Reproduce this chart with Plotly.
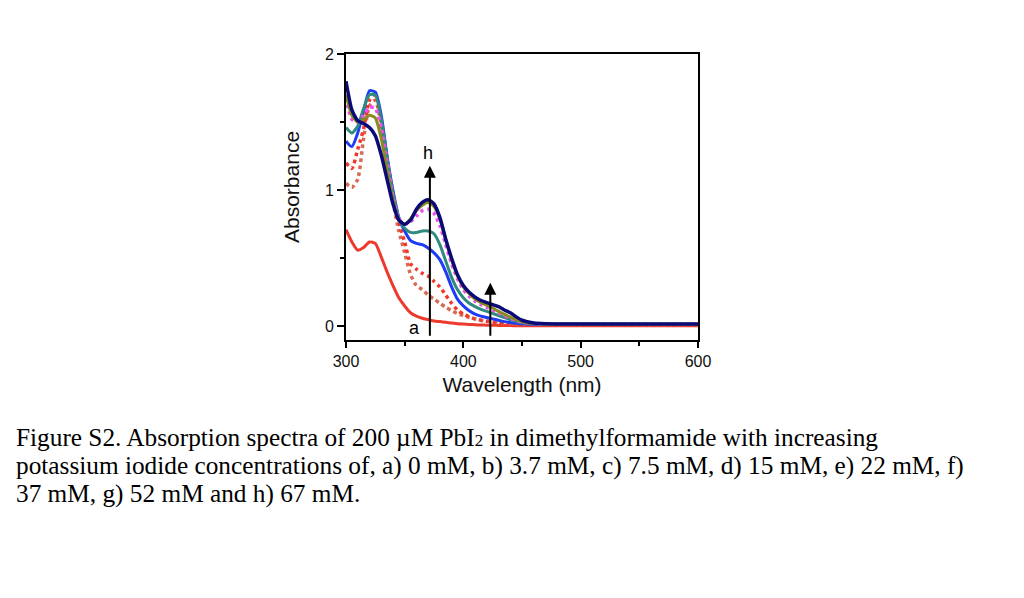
import plotly.graph_objects as go

wavelength = [300, 305, 310, 315, 320, 325, 330, 335, 340, 345, 350, 355, 360, 365, 370, 375,
              380, 385, 390, 395, 400, 405, 410, 415, 420, 425, 430, 435, 440, 445, 450, 460,
              470, 500, 550, 600]

abs_a = [0.71, 0.62, 0.56, 0.58, 0.62, 0.61, 0.51, 0.40, 0.30, 0.21, 0.15, 0.10, 0.075, 0.06, 0.05, 0.04,
         0.035, 0.03, 0.025, 0.02, 0.017, 0.014, 0.012, 0.01, 0.009, 0.008, 0.007, 0.006, 0.006, 0.005, 0.005, 0.005,
         0.005, 0.005, 0.005, 0.005]
abs_b = [1.05, 1.02, 1.08, 1.38, 1.62, 1.66, 1.48, 1.20, 0.92, 0.70, 0.54, 0.38, 0.30, 0.27, 0.23, 0.20,
         0.17, 0.14, 0.115, 0.095, 0.08, 0.065, 0.055, 0.045, 0.038, 0.032, 0.027, 0.023, 0.02, 0.018, 0.016, 0.014,
         0.013, 0.012, 0.011, 0.01]
abs_c = [1.20, 1.16, 1.30, 1.45, 1.66, 1.70, 1.52, 1.22, 0.95, 0.76, 0.62, 0.46, 0.42, 0.39, 0.37, 0.33,
         0.29, 0.23, 0.17, 0.12, 0.09, 0.07, 0.055, 0.045, 0.038, 0.032, 0.028, 0.024, 0.021, 0.019, 0.017, 0.015,
         0.014, 0.013, 0.012, 0.012]
abs_d = [1.36, 1.32, 1.42, 1.58, 1.73, 1.72, 1.55, 1.25, 1.00, 0.80, 0.70, 0.63, 0.61, 0.60, 0.575, 0.54,
         0.49, 0.40, 0.29, 0.20, 0.15, 0.115, 0.09, 0.075, 0.065, 0.055, 0.045, 0.035, 0.028, 0.022, 0.019, 0.016,
         0.015, 0.015, 0.014, 0.014]
abs_e = [1.46, 1.42, 1.47, 1.60, 1.70, 1.70, 1.52, 1.24, 0.98, 0.80, 0.72, 0.69, 0.69, 0.70, 0.70, 0.68,
         0.60, 0.48, 0.36, 0.27, 0.21, 0.17, 0.145, 0.125, 0.11, 0.095, 0.08, 0.065, 0.05, 0.037, 0.027, 0.019,
         0.016, 0.015, 0.015, 0.015]
abs_f = [1.68, 1.52, 1.50, 1.55, 1.61, 1.60, 1.46, 1.20, 0.95, 0.79, 0.75, 0.77, 0.81, 0.85, 0.86, 0.83,
         0.74, 0.60, 0.46, 0.35, 0.27, 0.22, 0.185, 0.16, 0.14, 0.12, 0.10, 0.08, 0.06, 0.045, 0.032, 0.021,
         0.017, 0.016, 0.015, 0.015]
abs_g = [1.70, 1.55, 1.50, 1.52, 1.55, 1.53, 1.38, 1.15, 0.93, 0.78, 0.75, 0.79, 0.85, 0.89, 0.91, 0.88,
         0.79, 0.64, 0.49, 0.37, 0.29, 0.24, 0.20, 0.175, 0.155, 0.135, 0.11, 0.09, 0.068, 0.05, 0.035, 0.022,
         0.018, 0.016, 0.016, 0.016]
abs_h = [1.80, 1.59, 1.51, 1.49, 1.46, 1.40, 1.26, 1.08, 0.90, 0.78, 0.75, 0.78, 0.86, 0.91, 0.93, 0.90,
         0.80, 0.64, 0.50, 0.38, 0.30, 0.25, 0.215, 0.19, 0.175, 0.16, 0.145, 0.12, 0.10, 0.07, 0.045, 0.025,
         0.02, 0.018, 0.017, 0.017]

series = [
    ("a", abs_a, "#ec3b2e", "solid", 3),
    ("b", abs_b, "#d96a52", "dot", 3.5),
    ("c", abs_c, "#f0392b", "dot", 3.5),
    ("d", abs_d, "#1d3cf5", "solid", 3),
    ("e", abs_e, "#2f8a80", "solid", 3),
    ("f", abs_f, "#f050ee", "dot", 3.5),
    ("g", abs_g, "#8c8a1e", "solid", 3),
    ("h", abs_h, "#0a0a78", "solid", 3.5),
]

x_ticks = [300, 400, 500, 600]
y_ticks = [0, 1, 2]

caption_lines = [
    "Figure S2. Absorption spectra of 200 µM PbI<span style='font-size:17px'>2</span> in dimethylformamide with increasing",
    "potassium iodide concentrations of, a) 0 mM, b) 3.7 mM, c) 7.5 mM, d) 15 mM, e) 22 mM, f)",
    "37 mM, g) 52 mM and h) 67 mM.",
]

fig = go.Figure()
for name, vals, color, dash, w in series:
    fig.add_trace(go.Scatter(x=wavelength, y=vals, mode="lines", name=name,
                             line=dict(color=color, width=w, dash=dash, shape="spline", smoothing=0.6)))

sans = "Liberation Sans, Arial, sans-serif"
axis_font = dict(family=sans, size=16, color="#111")
fig.update_layout(
    width=1024, height=598,
    margin=dict(l=346, r=326, t=54, b=258),
    paper_bgcolor="white", plot_bgcolor="white",
    showlegend=False,
    xaxis=dict(range=[300, 600], tickvals=x_ticks, ticks="outside", ticklen=6, tickwidth=1.5,
               tickcolor="black", showline=True, linecolor="black", linewidth=2, mirror=True,
               showgrid=False, zeroline=False, tickfont=axis_font,
               minor=dict(tickvals=[350, 450, 550], ticks="outside", ticklen=4, tickwidth=1.5, tickcolor="black"),
               title=dict(text="Wavelength (nm)", font=dict(family=sans, size=21, color="#111"), standoff=8)),
    yaxis=dict(range=[-0.1, 2.0], tickvals=y_ticks, ticks="outside", ticklen=7, tickwidth=1.5,
               tickcolor="black", showline=True, linecolor="black", linewidth=2, mirror=True,
               showgrid=False, zeroline=False, tickfont=axis_font,
               minor=dict(tickvals=[0.5, 1.5], ticks="outside", ticklen=4, tickwidth=1.5, tickcolor="black")),
)

# y axis title placed as in the reference (slightly above centre)
fig.add_annotation(x=(291 - 346) / 352, y=(340 - 187) / 286, xref="paper", yref="paper",
                   xanchor="center", yanchor="middle",
                   text="Absorbance", textangle=-90, showarrow=False,
                   font=dict(family=sans, size=21, color="#111"))

# arrows
fig.add_annotation(x=371.5, y=1.18, ax=371.5, ay=-0.08, xref="x", yref="y", axref="x", ayref="y",
                   showarrow=True, arrowhead=2, arrowsize=1.2, arrowwidth=2, arrowcolor="black", text="")
fig.add_annotation(x=423, y=0.32, ax=423, ay=-0.08, xref="x", yref="y", axref="x", ayref="y",
                   showarrow=True, arrowhead=2, arrowsize=1.2, arrowwidth=2, arrowcolor="black", text="")
fig.add_annotation(x=370, y=1.27, xref="x", yref="y", text="h", showarrow=False,
                   font=dict(family=sans, size=18, color="black"))
fig.add_annotation(x=358, y=-0.01, xref="x", yref="y", text="a", showarrow=False,
                   font=dict(family=sans, size=18, color="black"))

# caption
for line, py in zip(caption_lines, [437, 465, 494]):
    fig.add_annotation(x=(14 - 346) / 352, y=(340 - py) / 286, xref="paper", yref="paper",
                       xanchor="left", yanchor="middle", text=line, showarrow=False, align="left",
                       font=dict(family="Liberation Serif, serif", size=25.3, color="black"))

fig.write_html("out.html")
